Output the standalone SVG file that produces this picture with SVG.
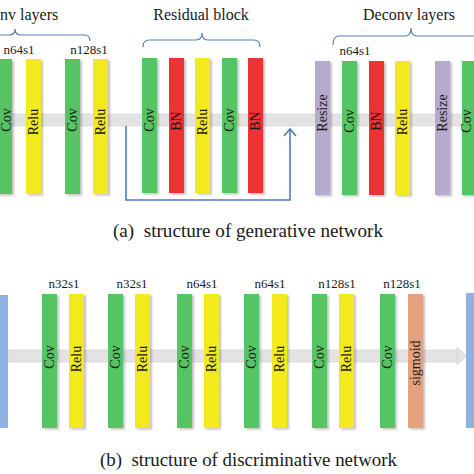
<svg xmlns="http://www.w3.org/2000/svg" width="474" height="474" viewBox="0 0 474 474">
<style>
text{font-family:"Liberation Serif","Times New Roman",serif;fill:#1a1a1a}
.hd{font-size:16px}
.nl{font-size:13px}
.bl{font-size:14px}
.cap{font-size:19px}
.g{fill:#56c464}
.r{fill:#ec3232}
.y{fill:#f2ea1e}
.p{fill:#b7abcd}
.o{fill:#e4a27f}
.b{fill:#8fb2e3}
.band{fill:#e3e3e3;stroke:#d4d4d4;stroke-width:0.6}
.br{fill:none;stroke:#5580bd;stroke-width:1.2}
.sk{fill:none;stroke:#4f7cbd;stroke-width:1.6}
</style>
<defs>
<filter id="sh" x="-30%" y="-10%" width="160%" height="120%">
<feDropShadow dx="2" dy="1.5" stdDeviation="1.2" flood-color="#777" flood-opacity="0.45"/>
</filter>
</defs>
<rect width="474" height="474" fill="#ffffff"/>

<!-- connectors -->
<g id="connectors">
<rect class="band" x="-2" y="114" width="478" height="12"/>
<rect class="band" x="8" y="350" width="449" height="12"/>
<polygon class="band" points="457,347 467,356 457,365"/>
<path class="sk" d="M126,126 V200 H290 V129"/>
<polyline class="sk" points="284,136 290,129 296,136"/>
</g>

<!-- headers and brackets -->
<g id="header-conv">
<text class="hd" x="0" y="20">nv layers</text>
<path class="br" d="M-60,41 Q-60,35 -54,35 H9 Q15,35 15,29 Q15,35 21,35 H84 Q90,35 90,41"/>
</g>
<g id="header-res">
<text class="hd" x="201" y="20" text-anchor="middle">Residual block</text>
<path class="br" d="M143,47 Q143,40 149,40 H196 Q202,40 202,33 Q202,40 208,40 H254 Q260,40 260,47"/>
</g>
<g id="header-deconv">
<text class="hd" x="409" y="20" text-anchor="middle">Deconv layers</text>
<path class="br" d="M333,45 Q333,36 339,36 H405 Q411,36 411,28 Q411,36 417,36 H483 Q489,36 489,45"/>
</g>

<!-- top filter labels -->
<g id="top-labels">
<text class="nl" x="19" y="54" text-anchor="middle">n64s1</text>
<text class="nl" x="89" y="54" text-anchor="middle">n128s1</text>
<text class="nl" x="355" y="55" text-anchor="middle">n64s1</text>
</g>

<!-- generative network nodes -->
<g id="g-cov1"><rect class="g" x="-3" y="59" width="15" height="135" filter="url(#sh)"/><text class="bl" transform="translate(6,120) rotate(-90)" text-anchor="middle" dy="0.35em">Cov</text></g>
<g id="g-relu1"><rect class="y" x="26" y="59" width="15" height="135" filter="url(#sh)"/><text class="bl" transform="translate(33.5,122) rotate(-90)" text-anchor="middle" dy="0.35em">Relu</text></g>
<g id="g-cov2"><rect class="g" x="65" y="59" width="15" height="135" filter="url(#sh)"/><text class="bl" transform="translate(72.5,120) rotate(-90)" text-anchor="middle" dy="0.35em">Cov</text></g>
<g id="g-relu2"><rect class="y" x="93" y="59" width="15" height="135" filter="url(#sh)"/><text class="bl" transform="translate(100.5,122) rotate(-90)" text-anchor="middle" dy="0.35em">Relu</text></g>
<g id="g-rcov1"><rect class="g" x="142" y="58" width="15" height="135" filter="url(#sh)"/><text class="bl" transform="translate(149.5,120) rotate(-90)" text-anchor="middle" dy="0.35em">Cov</text></g>
<g id="g-rbn1"><rect class="r" x="169" y="58" width="15" height="135" filter="url(#sh)"/><text class="bl" transform="translate(176.5,121) rotate(-90)" text-anchor="middle" dy="0.35em">BN</text></g>
<g id="g-rrelu"><rect class="y" x="195" y="58" width="15" height="135" filter="url(#sh)"/><text class="bl" transform="translate(202.5,122) rotate(-90)" text-anchor="middle" dy="0.35em">Relu</text></g>
<g id="g-rcov2"><rect class="g" x="222" y="58" width="15" height="135" filter="url(#sh)"/><text class="bl" transform="translate(229.5,120) rotate(-90)" text-anchor="middle" dy="0.35em">Cov</text></g>
<g id="g-rbn2"><rect class="r" x="248" y="58" width="15" height="135" filter="url(#sh)"/><text class="bl" transform="translate(255.5,121) rotate(-90)" text-anchor="middle" dy="0.35em">BN</text></g>
<g id="g-resize1"><rect class="p" x="315" y="61" width="15" height="134" filter="url(#sh)"/><text class="bl" transform="translate(322.5,113) rotate(-90)" text-anchor="middle" dy="0.35em">Resize</text></g>
<g id="g-dcov1"><rect class="g" x="342" y="61" width="15" height="134" filter="url(#sh)"/><text class="bl" transform="translate(349.5,121) rotate(-90)" text-anchor="middle" dy="0.35em">Cov</text></g>
<g id="g-dbn"><rect class="r" x="369" y="61" width="15" height="134" filter="url(#sh)"/><text class="bl" transform="translate(376.5,121) rotate(-90)" text-anchor="middle" dy="0.35em">BN</text></g>
<g id="g-drelu"><rect class="y" x="395" y="61" width="15" height="134" filter="url(#sh)"/><text class="bl" transform="translate(402.5,122) rotate(-90)" text-anchor="middle" dy="0.35em">Relu</text></g>
<g id="g-resize2"><rect class="p" x="435" y="61" width="15" height="134" filter="url(#sh)"/><text class="bl" transform="translate(442.5,113) rotate(-90)" text-anchor="middle" dy="0.35em">Resize</text></g>
<g id="g-dcov2"><rect class="g" x="462" y="61" width="15" height="134" filter="url(#sh)"/><text class="bl" transform="translate(466,121) rotate(-90)" text-anchor="middle" dy="0.35em">Cov</text></g>

<g id="caption-a"><text class="cap" x="113" y="237" textLength="270" lengthAdjust="spacingAndGlyphs">(a)&#160; structure of generative network</text></g>

<!-- bottom filter labels -->
<g id="bottom-labels">
<text class="nl" x="64" y="288" text-anchor="middle">n32s1</text>
<text class="nl" x="132" y="288" text-anchor="middle">n32s1</text>
<text class="nl" x="202" y="288" text-anchor="middle">n64s1</text>
<text class="nl" x="270" y="288" text-anchor="middle">n64s1</text>
<text class="nl" x="337" y="288" text-anchor="middle">n128s1</text>
<text class="nl" x="402" y="288" text-anchor="middle">n128s1</text>
</g>

<!-- discriminative network nodes -->
<g id="d-input"><rect class="b" x="-10" y="295" width="18" height="133"/></g>
<g id="d-cov1"><rect class="g" x="42" y="294" width="15" height="134" filter="url(#sh)"/><text class="bl" transform="translate(49.5,357) rotate(-90)" text-anchor="middle" dy="0.35em">Cov</text></g>
<g id="d-relu1"><rect class="y" x="69" y="294" width="15" height="134" filter="url(#sh)"/><text class="bl" transform="translate(76.5,359) rotate(-90)" text-anchor="middle" dy="0.35em">Relu</text></g>
<g id="d-cov2"><rect class="g" x="108" y="294" width="15" height="134" filter="url(#sh)"/><text class="bl" transform="translate(115.5,357) rotate(-90)" text-anchor="middle" dy="0.35em">Cov</text></g>
<g id="d-relu2"><rect class="y" x="135" y="294" width="15" height="134" filter="url(#sh)"/><text class="bl" transform="translate(142.5,359) rotate(-90)" text-anchor="middle" dy="0.35em">Relu</text></g>
<g id="d-cov3"><rect class="g" x="177" y="294" width="15" height="134" filter="url(#sh)"/><text class="bl" transform="translate(184.5,357) rotate(-90)" text-anchor="middle" dy="0.35em">Cov</text></g>
<g id="d-relu3"><rect class="y" x="204" y="294" width="15" height="134" filter="url(#sh)"/><text class="bl" transform="translate(211.5,359) rotate(-90)" text-anchor="middle" dy="0.35em">Relu</text></g>
<g id="d-cov4"><rect class="g" x="244" y="294" width="15" height="134" filter="url(#sh)"/><text class="bl" transform="translate(251.5,357) rotate(-90)" text-anchor="middle" dy="0.35em">Cov</text></g>
<g id="d-relu4"><rect class="y" x="272" y="294" width="15" height="134" filter="url(#sh)"/><text class="bl" transform="translate(279.5,359) rotate(-90)" text-anchor="middle" dy="0.35em">Relu</text></g>
<g id="d-cov5"><rect class="g" x="312" y="294" width="15" height="134" filter="url(#sh)"/><text class="bl" transform="translate(319.5,357) rotate(-90)" text-anchor="middle" dy="0.35em">Cov</text></g>
<g id="d-relu5"><rect class="y" x="339" y="294" width="15" height="134" filter="url(#sh)"/><text class="bl" transform="translate(346.5,359) rotate(-90)" text-anchor="middle" dy="0.35em">Relu</text></g>
<g id="d-cov6"><rect class="g" x="380" y="294" width="15" height="134" filter="url(#sh)"/><text class="bl" transform="translate(387.5,357) rotate(-90)" text-anchor="middle" dy="0.35em">Cov</text></g>
<g id="d-sigmoid"><rect class="o" x="408" y="294" width="15" height="134" filter="url(#sh)"/><text class="bl" transform="translate(415.5,363) rotate(-90)" text-anchor="middle" dy="0.35em">sigmoid</text></g>
<g id="d-output"><rect class="b" x="466" y="293" width="18" height="135"/></g>

<g id="caption-b"><text class="cap" x="100" y="466" textLength="297" lengthAdjust="spacingAndGlyphs">(b)&#160; structure of discriminative network</text></g>
</svg>
